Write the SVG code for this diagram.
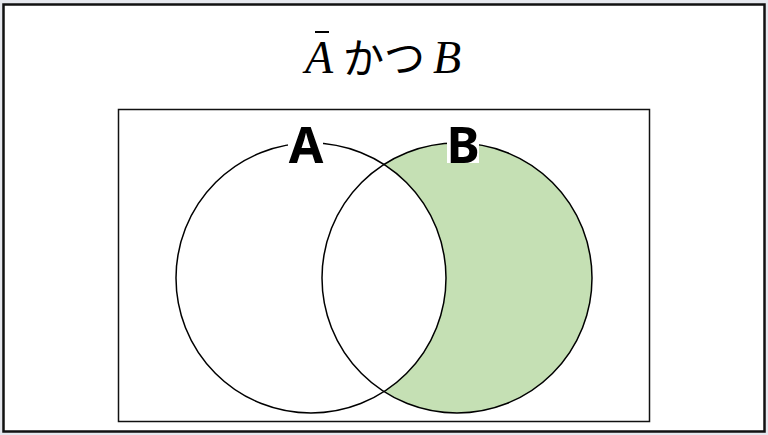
<svg xmlns="http://www.w3.org/2000/svg" width="768" height="435" viewBox="0 0 768 435">
<style>
.frame{fill:#fff;stroke:#111;}
.circ{fill:none;stroke:#000;stroke-width:1.5;}
.lbl{font-family:"Noto Sans","Liberation Sans",sans-serif;font-weight:bold;font-size:50px;fill:#000;text-anchor:middle;}
.math{font-family:"Liberation Serif",serif;font-style:italic;font-size:46px;fill:#000;}
.jp{font-family:"Noto Sans CJK JP",sans-serif;font-size:41px;fill:#000;}
</style>
<rect x="0" y="0" width="768" height="435" fill="#e6e8ee"/>
<rect class="frame" x="3.5" y="4.5" width="761" height="427" stroke-width="2.5"/>
<g id="title">
<text x="305" y="73" class="math">A</text>
<line x1="315" y1="32" x2="329" y2="32" stroke="#000" stroke-width="2"/>
<text x="343" y="73" class="jp">かつ</text>
<text x="433" y="73" class="math">B</text>
</g>
<g id="universe"><rect class="frame" x="118.5" y="109.5" width="531" height="312" stroke-width="1.5"/></g>
<g id="region"><path d="M384,164.44 A135,135 0 1 1 384,391.56 A135,135 0 0 0 384,164.44 Z" fill="#c5e0b4"/></g>
<g id="setA"><circle class="circ" cx="311" cy="278" r="135"/></g>
<g id="setB"><circle class="circ" cx="457" cy="278" r="135"/></g>
<g id="labelA"><rect x="288" y="124" width="35" height="40" fill="#fff"/><text x="306" y="163" class="lbl">A</text></g>
<g id="labelB"><rect x="447" y="123" width="32" height="40" fill="#fff"/><text x="463" y="163" class="lbl">B</text></g>
</svg>
